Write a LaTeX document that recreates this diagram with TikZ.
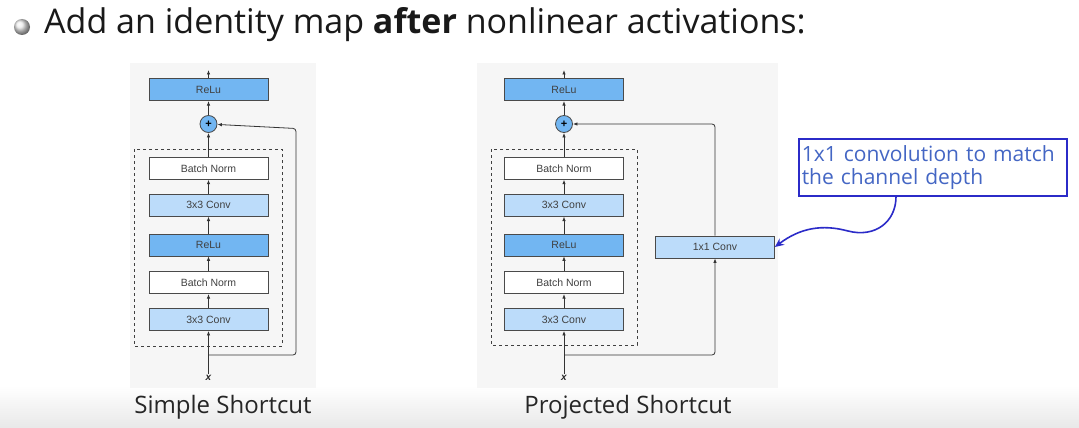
\documentclass[tikz,border=0pt]{standalone}
\usepackage{fontspec}
\setmainfont{Open Sans}
\newfontfamily\boxfont{Liberation Sans}
\usetikzlibrary{arrows.meta,positioning,shadings}
\definecolor{panelgray}{HTML}{F6F6F6}
\definecolor{relublue}{HTML}{72B6F2}
\definecolor{convblue}{HTML}{BCDCFA}
\definecolor{boxedge}{HTML}{4A4A4A}
\definecolor{noteblue}{HTML}{2B2BC8}
\definecolor{notetext}{HTML}{4466C4}

\begin{document}
\begin{tikzpicture}[x=1pt, y=-1pt,
  layer/.style={rectangle, draw=boxedge, line width=0.8pt, minimum width=119pt, minimum height=22pt, inner sep=0pt, font=\boxfont\fontsize{10.5}{12}\selectfont, text=black!75},
  relu/.style={layer, fill=relublue},
  conv/.style={layer, fill=convblue},
  norm/.style={layer, fill=white},
  addop/.style={circle, draw=boxedge, line width=0.8pt, fill=relublue, minimum size=17pt, inner sep=0pt, font=\boxfont\bfseries\fontsize{11}{11}\selectfont},
  inlabel/.style={font=\boxfont\bfseries\itshape\fontsize{10}{10}\selectfont, text=black!85, inner sep=1pt},
  flow/.style={-{Latex[length=4.5pt,width=3.5pt]}, line width=0.8pt, draw=black!80},
  note/.style={rectangle, draw=noteblue, line width=1.6pt, fill=white, text=notetext, align=left, inner xsep=3pt, inner ysep=3pt, text width=262pt, minimum height=57pt, font=\fontsize{21}{23}\selectfont},
  caption/.style={font=\fontsize{24}{26}\selectfont, text=black!85}
]
\useasboundingbox (0,0) rectangle (1079,428);
\fill[white] (0,0) rectangle (1079,428);
\shade[top color=white, bottom color=black!9] (0,386) rectangle (1079,428);

% title
\shade[ball color=black!8] (22,27) circle (8);
\node[anchor=west, inner sep=0pt, font=\fontsize{34}{36}\selectfont, text=black!90] (title) at (44,25) {Add an identity map \textbf{after} nonlinear activations:};

% panels
\fill[panelgray] (130,63) rectangle (316,388);
\fill[panelgray] (477,63) rectangle (778,388);

% simple shortcut
\node[conv] (lc1) at (208.5,319.5) {3x3 Conv};
\node[norm, above=14pt of lc1] (lb1) {Batch Norm};
\node[relu, above=15pt of lb1] (lr1) {ReLu};
\node[conv, above=17pt of lr1] (lc2) {3x3 Conv};
\node[norm, above=14pt of lc2] (lb2) {Batch Norm};
\node[addop, above=24pt of lb2] (lplus) {+};
\node[relu, above=14pt of lplus] (lout) {ReLu};
\node[inlabel] (lx) at (208.5,378) {x};
\coordinate (lsplit) at (208.5,355);
\coordinate (lturn) at (296,128.5);
\coordinate (ltop) at (208.5,70);
\draw[dashed, line width=0.8pt, draw=black!75] (134,149) rectangle (282,346);
\draw[flow] (lx) -- (lc1);
\draw[flow] (lc1) -- (lb1);
\draw[flow] (lb1) -- (lr1);
\draw[flow] (lr1) -- (lc2);
\draw[flow] (lc2) -- (lb2);
\draw[flow] (lb2) -- (lplus);
\draw[flow] (lplus) -- (lout);
\draw[flow] (lout) -- (ltop);
\draw[flow, rounded corners=3pt] (lsplit) -| (lturn) -- (lplus);

% projected shortcut
\node[conv] (rc1) at (564,319.5) {3x3 Conv};
\node[norm, above=14pt of rc1] (rb1) {Batch Norm};
\node[relu, above=15pt of rb1] (rr1) {ReLu};
\node[conv, above=17pt of rr1] (rc2) {3x3 Conv};
\node[norm, above=14pt of rc2] (rb2) {Batch Norm};
\node[addop, above=24pt of rb2] (rplus) {+};
\node[relu, above=14pt of rplus] (rout) {ReLu};
\node[conv] (rproj) at (715,247) {1x1 Conv};
\node[inlabel] (rx) at (564,378) {x};
\coordinate (rsplit) at (564,355);
\coordinate (rtop) at (564,70);
\draw[dashed, line width=0.8pt, draw=black!75] (491,149) rectangle (637,345);
\draw[flow] (rx) -- (rc1);
\draw[flow] (rc1) -- (rb1);
\draw[flow] (rb1) -- (rr1);
\draw[flow] (rr1) -- (rc2);
\draw[flow] (rc2) -- (rb2);
\draw[flow] (rb2) -- (rplus);
\draw[flow] (rplus) -- (rout);
\draw[flow] (rout) -- (rtop);
\draw[flow, rounded corners=3pt] (rsplit) -| (rproj);
\draw[flow, rounded corners=3pt] (rproj) |- (rplus);

% callout
\node[note, anchor=north west] (memo) at (798,138) {1x1 convolution to match\\the channel depth};
\draw[-{Stealth[length=9pt,width=8pt]}, line width=1.6pt, draw=noteblue]
  (memo.south -| 896,0) .. controls (896,222) and (875,238) .. (848,231)
  .. controls (822,224) and (800,228) .. (rproj.east);

% captions
\node[caption] (lcap) at (223,407) {Simple Shortcut};
\node[caption] (rcap) at (628,407) {Projected Shortcut};
\end{tikzpicture}
\end{document}
